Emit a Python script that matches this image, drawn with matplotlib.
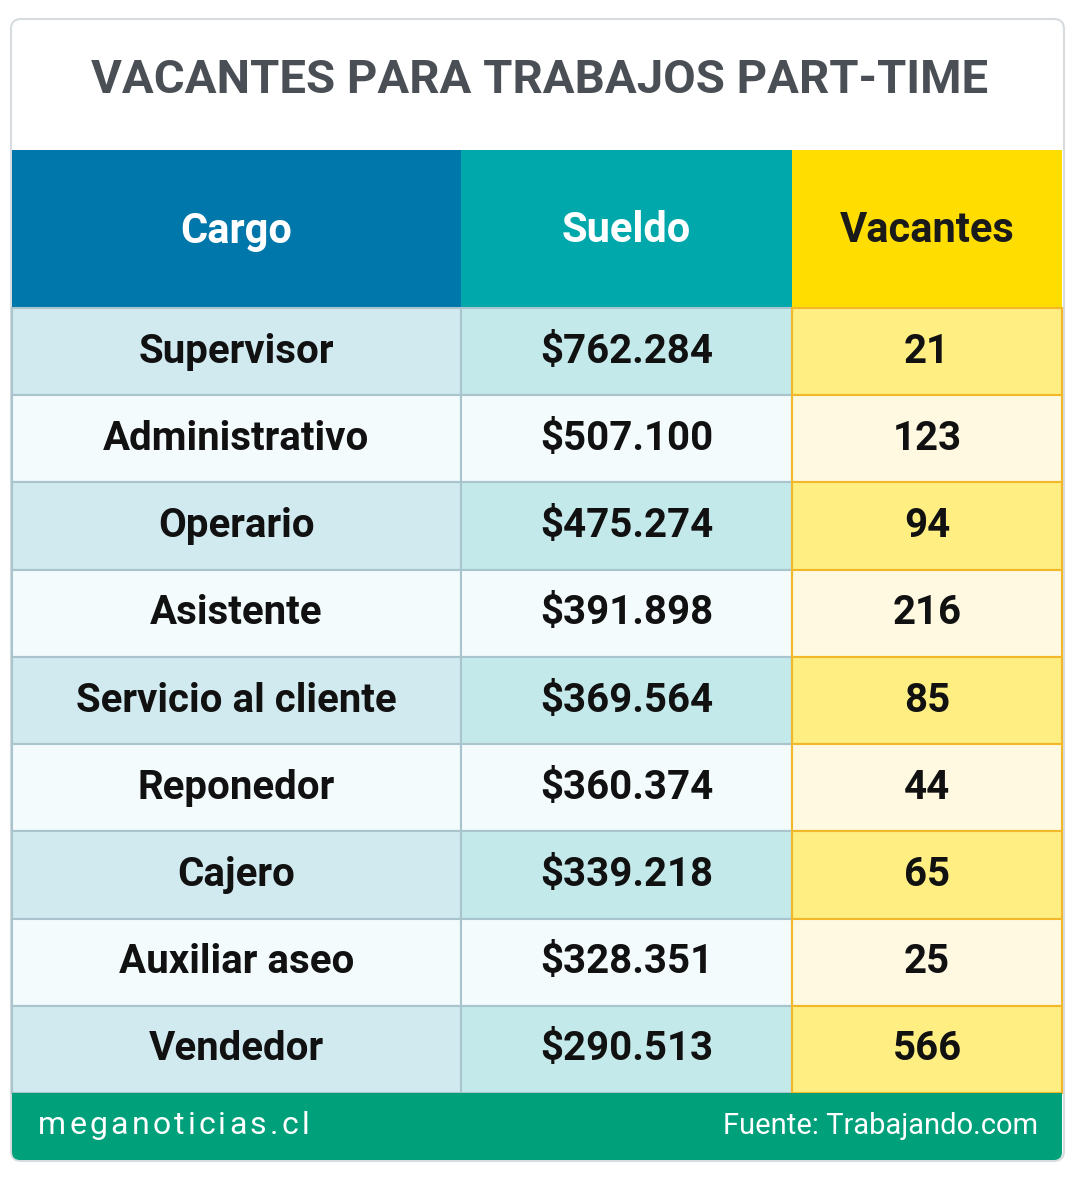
import matplotlib
matplotlib.use("Agg")
import matplotlib.pyplot as plt
from matplotlib.patches import Rectangle, FancyBboxPatch

cargos = ["Supervisor", "Administrativo", "Operario", "Asistente", "Servicio al cliente",
          "Reponedor", "Cajero", "Auxiliar aseo", "Vendedor"]
sueldos = ["$762.284", "$507.100", "$475.274", "$391.898", "$369.564",
           "$360.374", "$339.218", "$328.351", "$290.513"]
vacantes = ["21", "123", "94", "216", "85", "44", "65", "25", "566"]
headers = ["Cargo", "Sueldo", "Vacantes"]

FONT = "Roboto"
W, H = 1080, 1189
col_x = [12, 461, 792, 1062]
head_top, head_bot = 150, 308
row_h = (1093 - 308) / len(cargos)

head_colors = ["#0077AA", "#00A8AC", "#FFDD00"]
head_text = ["white", "white", "#1A1A1A"]
odd = ["#D0EAF0", "#C4E9EA", "#FFEE82"]
even = ["#F3FBFD", "#F3FBFD", "#FFF9E1"]
edge = ["#A9C4CC", "#A9C4CC", "#F3B82A"]

fig = plt.figure(figsize=(W / 100, H / 100), dpi=100)
ax = fig.add_axes([0, 0, 1, 1])
ax.set_xlim(0, W)
ax.set_ylim(H, 0)
ax.axis("off")

ax.add_patch(FancyBboxPatch((11, 19), 1053, 1142, boxstyle="round,pad=0,rounding_size=10",
                            fc="white", ec="#D6DCDF", lw=1.5))
ax.text(W / 2, 80, "VACANTES PARA TRABAJOS PART-TIME", ha="center", va="center",
        fontsize=34, fontweight="bold", color="#4A4F56", family=FONT)

for j in range(3):
    ax.add_patch(Rectangle((col_x[j], head_top), col_x[j + 1] - col_x[j], head_bot - head_top,
                           fc=head_colors[j], ec="none"))
    ax.text((col_x[j] + col_x[j + 1]) / 2, (head_top + head_bot) / 2 + 2, headers[j],
            ha="center", va="center", fontsize=30, fontweight="bold",
            color=head_text[j], family=FONT)

cols = [cargos, sueldos, vacantes]
for i in range(len(cargos)):
    y0 = head_bot + i * row_h
    fills = odd if i % 2 == 0 else even
    for j in range(3):
        ax.add_patch(Rectangle((col_x[j], y0), col_x[j + 1] - col_x[j], row_h,
                               fc=fills[j], ec=edge[j], lw=1.5))
    for j in range(3):
        ax.text((col_x[j] + col_x[j + 1]) / 2, y0 + row_h / 2, cols[j][i],
                ha="center", va="center", fontsize=29, fontweight="bold",
                color="#111111", family=FONT)

ax.add_patch(FancyBboxPatch((12, 1093), 1050, 67, boxstyle="round,pad=0,rounding_size=8",
                            fc="#00A07A", ec="none"))
ax.add_patch(Rectangle((12, 1093), 1050, 20, fc="#00A07A", ec="none"))
# letter-spaced site name
brand = "meganoticias.cl"
fig.canvas.draw()
renderer = fig.canvas.get_renderer()
x = 38
for ch in brand:
    t = ax.text(x, 1126, ch, ha="left", va="center", fontsize=23, color="white", family=FONT)
    x += t.get_window_extent(renderer).width + 3.2
ax.text(1038, 1126, "Fuente: Trabajando.com", ha="right", va="center", fontsize=21,
        color="white", family=FONT)

fig.savefig("out.png", dpi=100)
